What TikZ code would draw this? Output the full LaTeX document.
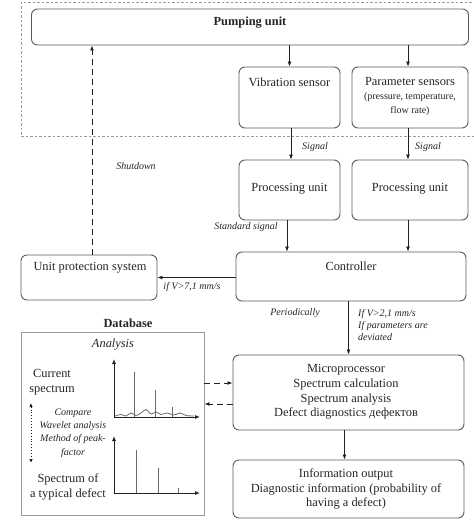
\documentclass[tikz,border=0pt]{standalone}
\usepackage{fontspec}
\setmainfont{Liberation Serif}
\usetikzlibrary{arrows.meta,calc}
\definecolor{boxc}{HTML}{5A5A5A}
\definecolor{txtc}{HTML}{252525}
\definecolor{arrc}{HTML}{202020}
\definecolor{frmc}{HTML}{9A9A9A}
\definecolor{specc}{HTML}{6A6A6A}
\begin{document}
\begin{tikzpicture}[x=1pt,y=-1pt,
  box/.style={draw=boxc,line width=0.9pt,rounded corners=6pt,inner sep=0pt},
  sqbox/.style={draw=frmc,line width=0.9pt,inner sep=0pt},
  big/.style={text=txtc,inner sep=0pt,align=center,font=\fontsize{12.4}{14.6}\selectfont},
  small/.style={text=txtc,inner sep=0pt,align=center,font=\fontsize{10}{14}\selectfont},
  lab/.style={text=txtc,inner sep=0pt,align=left,font=\fontsize{10}{12}\selectfont\itshape},
  arr/.style={draw=arrc,line width=0.8pt,-{Latex[length=5pt,width=4pt]}},
  dasharr/.style={draw=arrc,line width=0.9pt,dash pattern=on 6pt off 4pt,-{Latex[length=5pt,width=4pt]}},
  axisarr/.style={draw=arrc,line width=0.9pt,{Latex[length=5pt,width=4pt]}-{Latex[length=5pt,width=4pt]}},
  spike/.style={draw=specc,line width=0.7pt}]
\useasboundingbox (0,0) rectangle (474,523);

% dashed frame round the pumping unit and sensors
\draw[draw=frmc,line width=0.8pt,dash pattern=on 2.5pt off 2pt] (476,2) -- (21,2) -- (21,136) -- (476,136);

% boxes
\node[box,minimum width=437pt,minimum height=36pt] (pump) at (250,27) {};
\node[big] (pumpt) at (250,23) {\bfseries Pumping unit};

\node[box,minimum width=101pt,minimum height=61pt] (vib) at (289.5,97.5) {};
\node[big] (vibt) at (289.5,82) {Vibration sensor};

\node[box,minimum width=116pt,minimum height=61pt] (par) at (410,97.5) {};
\node[big] (part) at (410,81) {Parameter sensors};
\node[small] (parsub) at (410,104) {(pressure, temperature,\\flow rate)};

\node[box,minimum width=101pt,minimum height=60pt] (proc1) at (289.5,190) {};
\node[big] (proc1t) at (289.5,189) {Processing unit};
\node[box,minimum width=116pt,minimum height=60pt] (proc2) at (410,190) {};
\node[big] (proc2t) at (410,189) {Processing unit};

\node[box,minimum width=230pt,minimum height=49pt] (ctrl) at (351,276.5) {};
\node[big] (ctrlt) at (351,266) {Controller};

\node[box,minimum width=136pt,minimum height=45pt] (ups) at (89,277.5) {};
\node[big] (upst) at (90,268) {Unit protection system};

\node[box,minimum width=231pt,minimum height=75pt] (micro) at (348.5,392.5) {};
\node[big] (microt) at (346,392) {Microprocessor\\Spectrum calculation\\Spectrum analysis\\Defect diagnostics дефектов};

\node[box,minimum width=231pt,minimum height=58pt] (info) at (348.5,489) {};
\node[big] (infot) at (346,489) {Information output\\Diagnostic information (probability of\\having a defect)};

% database
\node[big] (dbt) at (128,323) {\bfseries Database};
\node[sqbox,minimum width=183pt,minimum height=183pt] (db) at (112.5,423.5) {};
\node[big] (anal) at (113,345) {\itshape Analysis};
\node[big] (cur) at (52,382) {Current\\spectrum};
\node[big] (typ) at (68,487) {Spectrum of\\a typical defect};
\node[text=txtc,inner sep=0pt,align=center,font=\fontsize{10}{13.3}\selectfont\itshape] (cmp) at (73,433) {Compare\\Wavelet analysis\\Method of peak-\\factor};
\coordinate (dtop) at (31,403);
\coordinate (dbot) at (31,463);
\draw[draw=arrc,line width=0.9pt,dotted,{Latex[length=4pt,width=3.5pt]}-{Latex[length=4pt,width=3.5pt]}] (dtop) -- (dbot);

% upper spectrum chart
\coordinate (u0) at (114,417);
\coordinate (uy) at (114,359);
\coordinate (ux) at (200,417);
\draw[spike] (134,417) -- (134,372);
\draw[spike] (155,417) -- (155,390);
\draw[spike] (172,417) -- (172,407);
\draw[spike,line width=0.8pt] plot[smooth] coordinates {(115,416) (121,414.5) (126,416) (131,413) (136,415.5) (141,413) (146,409.5) (151,414) (156,412) (161,414.5) (167,413) (174,415) (180,413) (186,415.5) (194,416)};
\draw[axisarr] (uy) -- (u0) -- (ux);

% lower spectrum chart
\coordinate (l0) at (114,493);
\coordinate (ly) at (114,436);
\coordinate (lx) at (200,493);
\draw[spike] (136,493) -- (136,450);
\draw[spike] (158,493) -- (158,468);
\draw[spike] (178,493) -- (178,488);
\draw[axisarr] (ly) -- (l0) -- (lx);

% connectors
\draw[arr] (vib.north |- pump.south) -- (vib.north);
\draw[arr] ([xshift=-2pt]par.north |- pump.south) -- ([xshift=-2pt]par.north);
\draw[arr] ([xshift=1.5pt]vib.south) -- ([xshift=1.5pt]proc1.north);
\draw[arr] ([xshift=-2pt]par.south) -- ([xshift=-2pt]proc2.north);
\draw[arr] ([xshift=-2.5pt]proc1.south) -- ([xshift=-2.5pt]proc1.south |- ctrl.north);
\draw[arr] ([xshift=-2pt]proc2.south) -- ([xshift=-2pt]proc2.south |- ctrl.north);
\draw[arr] (ctrl.west |- ups.east) -- (ups.east);
\draw[dasharr] ([xshift=3pt]ups.north) -- ([xshift=3pt]ups.north |- pump.south);
\draw[arr] (micro.north |- ctrl.south) -- (micro.north);
\draw[arr] ([xshift=-4pt]micro.south) -- ([xshift=-4pt]info.north);
\draw[dasharr] ([yshift=40.5pt]db.east) -- ([yshift=40.5pt]db.east -| micro.west);
\draw[dasharr] ([yshift=19.5pt]db.east -| micro.west) -- ([yshift=19.5pt]db.east);

% connector labels
\node[lab] (sig1) at (315,147) {Signal};
\node[lab] (sig2) at (428,147) {Signal};
\node[lab] (shut) at (136,166) {Shutdown};
\node[lab] (std) at (246,227) {Standard signal};
\node[lab] (v71) at (192,287) {if V>7,1 mm/s};
\node[lab] (per) at (295,313) {Periodically};
\node[lab,anchor=west,font=\fontsize{10}{12}\selectfont\itshape] (v21) at (358,325) {If V>2,1 mm/s\\If parameters are\\deviated};
\end{tikzpicture}
\end{document}
